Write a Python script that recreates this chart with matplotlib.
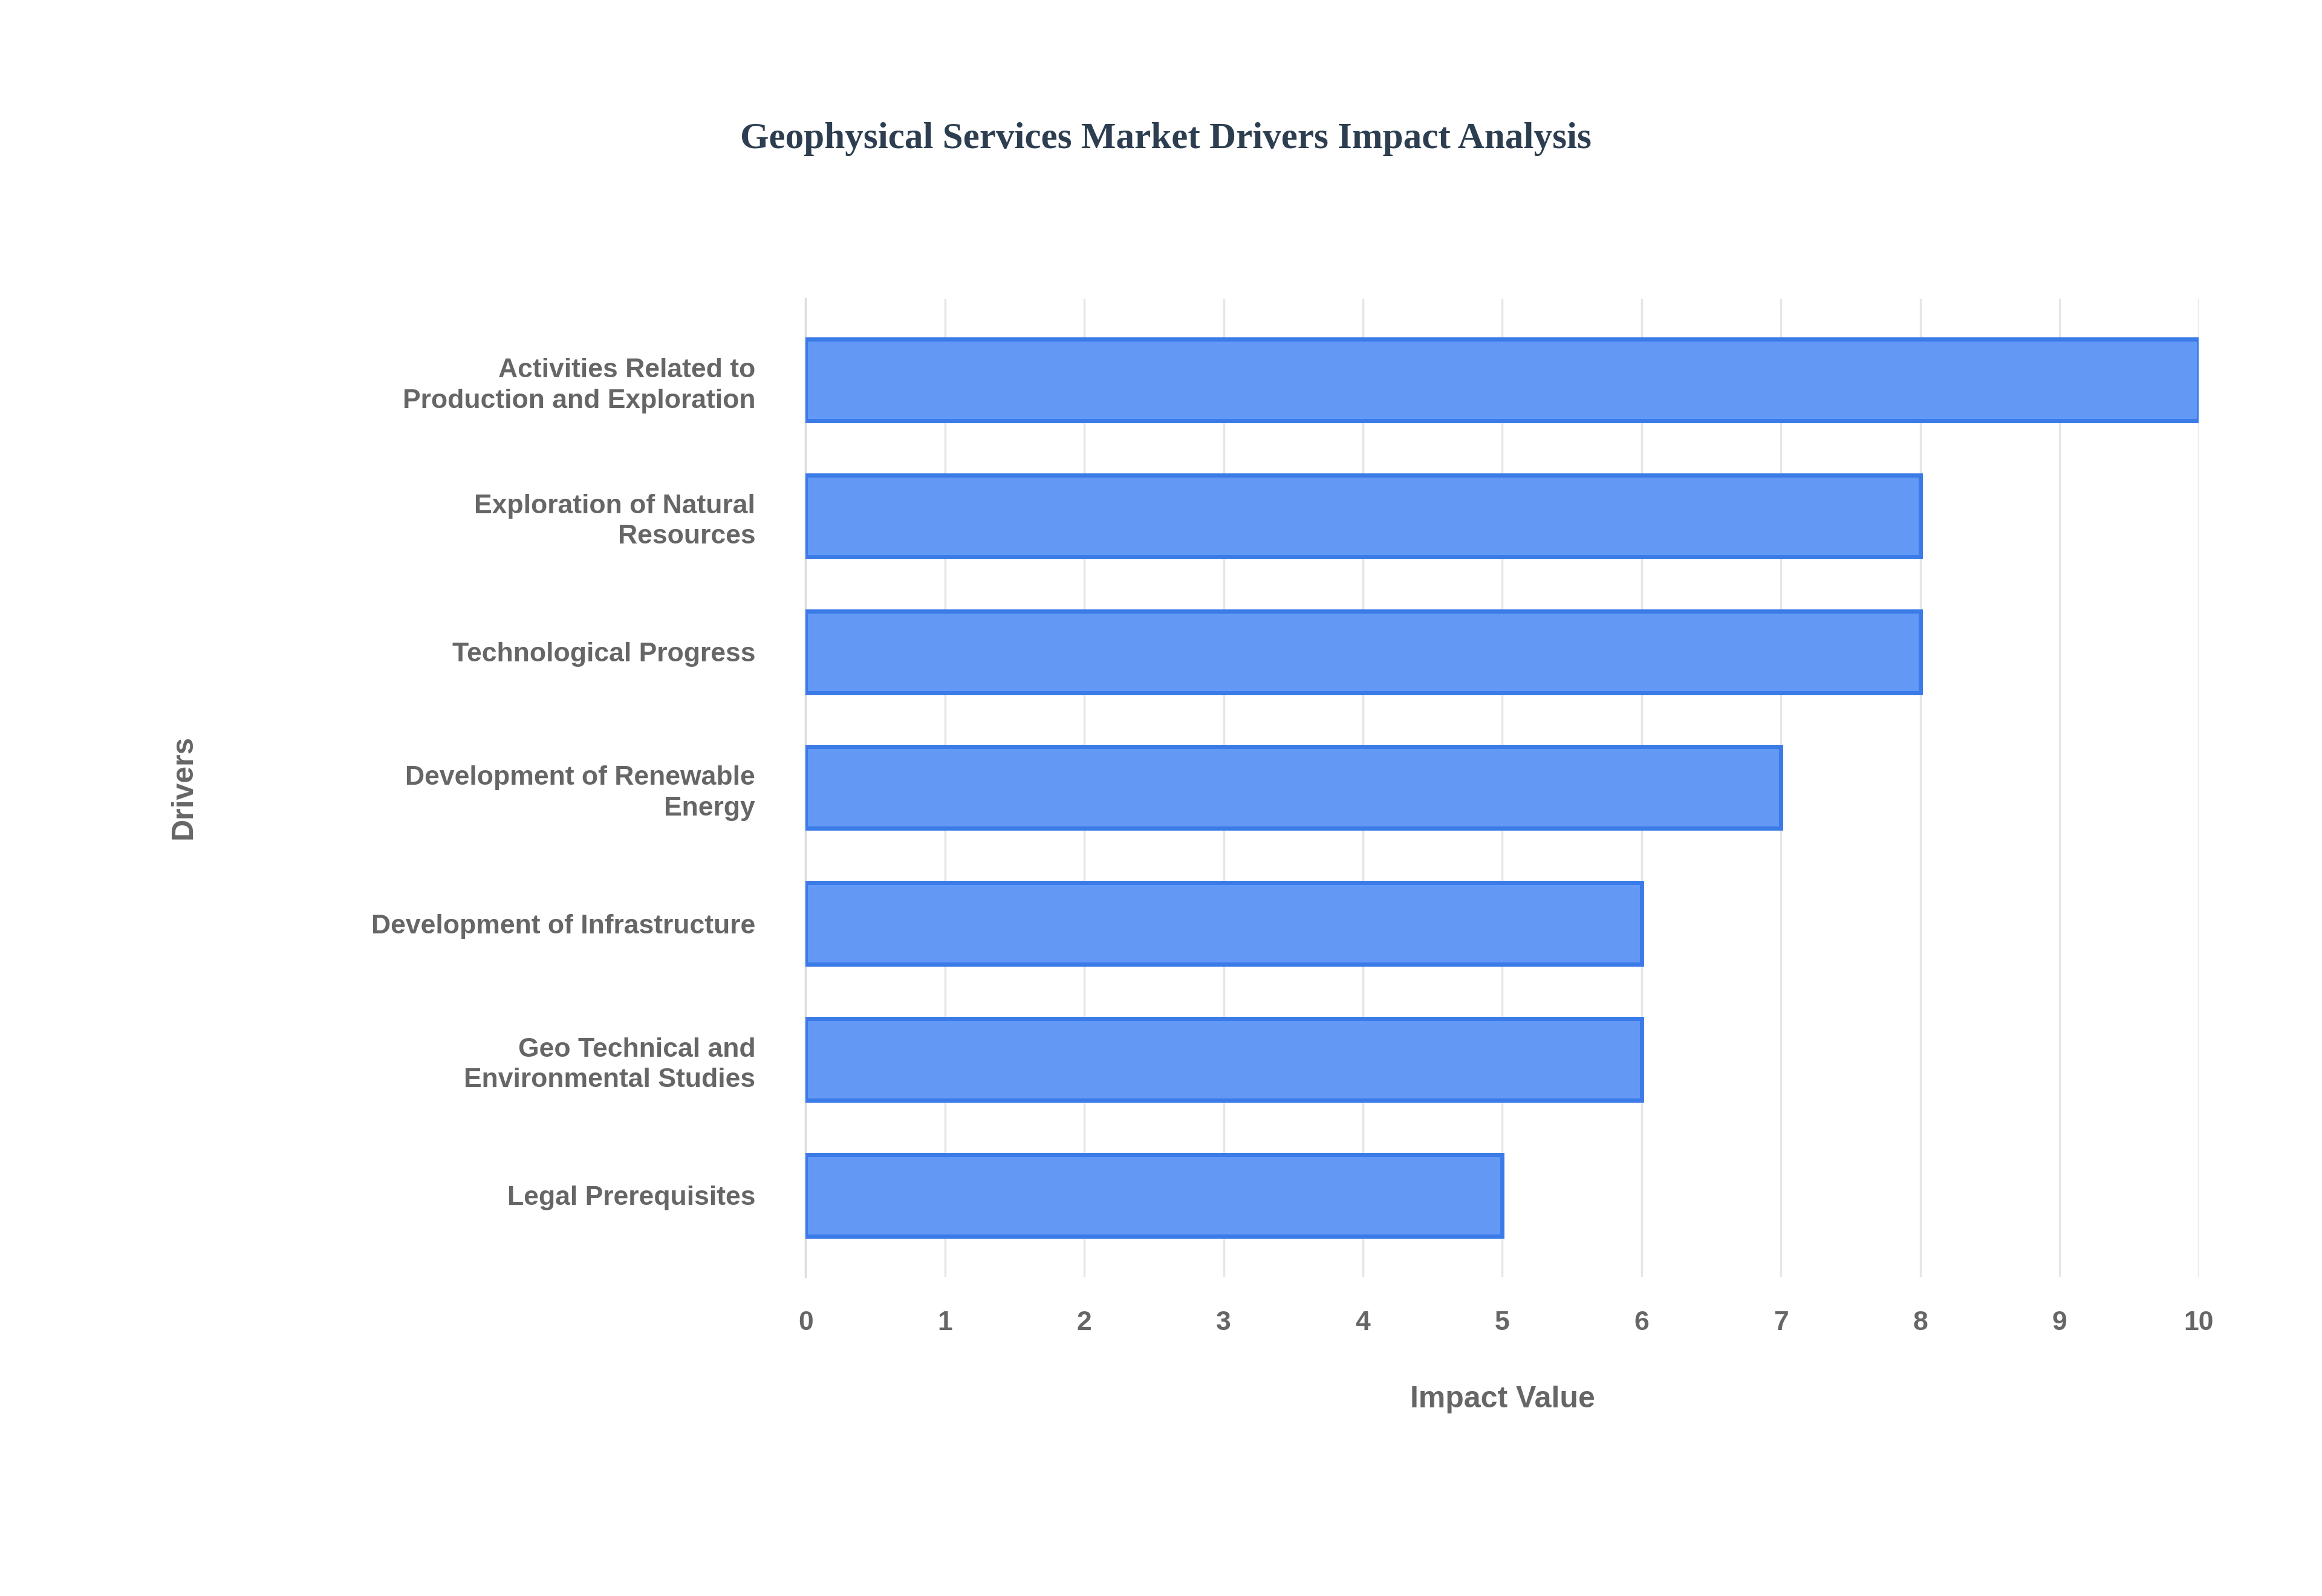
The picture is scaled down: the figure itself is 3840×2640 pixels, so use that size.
import matplotlib
matplotlib.use("Agg")
import matplotlib.pyplot as plt

drivers = ["Activities Related to\nProduction and Exploration",
           "Exploration of Natural\nResources",
           "Technological Progress",
           "Development of Renewable\nEnergy",
           "Development of Infrastructure",
           "Geo Technical and\nEnvironmental Studies",
           "Legal Prerequisites"]
impact = [10, 8, 8, 7, 6, 6, 5]
xticks = list(range(0, 11))

fig = plt.figure(figsize=(38.4, 26.4), dpi=100)
ax = fig.add_axes([0.347, 0.200, 0.600, 0.613])
ypos = list(range(len(drivers)))
ax.barh(ypos, impact, height=0.6, color="#6399f5", edgecolor="#3b7be8",
        linewidth=5, zorder=3)
ax.set_ylim(len(drivers) - 0.4, -0.6)
ax.set_xlim(0, 10)
ax.set_yticks(ypos)
ax.set_yticklabels(drivers, fontsize=32, fontweight="bold", color="#666666",
                   family="Liberation Sans", linespacing=1.3)
ax.set_xticks(xticks)
ax.set_xticklabels([str(t) for t in xticks], fontsize=32, fontweight="bold",
                   color="#666666", family="Liberation Sans")
ax.tick_params(axis="y", length=0, pad=60)
ax.tick_params(axis="x", length=0, pad=40)
ax.grid(axis="x", color="#e6e6e6", linewidth=2.5, zorder=0)
for s in ["top", "right", "bottom"]:
    ax.spines[s].set_visible(False)
ax.spines["left"].set_color("#dddddd")
ax.spines["left"].set_linewidth(2.5)
ax.set_xlabel("Impact Value", fontsize=36, fontweight="bold", color="#666666",
              family="Liberation Sans", labelpad=60)
fig.text(0.079, 0.507, "Drivers", rotation=90, fontsize=36, fontweight="bold",
         color="#666666", family="Liberation Sans", ha="center", va="center")
fig.text(0.502, 0.913, "Geophysical Services Market Drivers Impact Analysis",
         fontsize=44, fontweight="bold", color="#2c3e50",
         family="Liberation Serif", ha="center", va="center")
fig.savefig("out.png", dpi=100, facecolor="white")
